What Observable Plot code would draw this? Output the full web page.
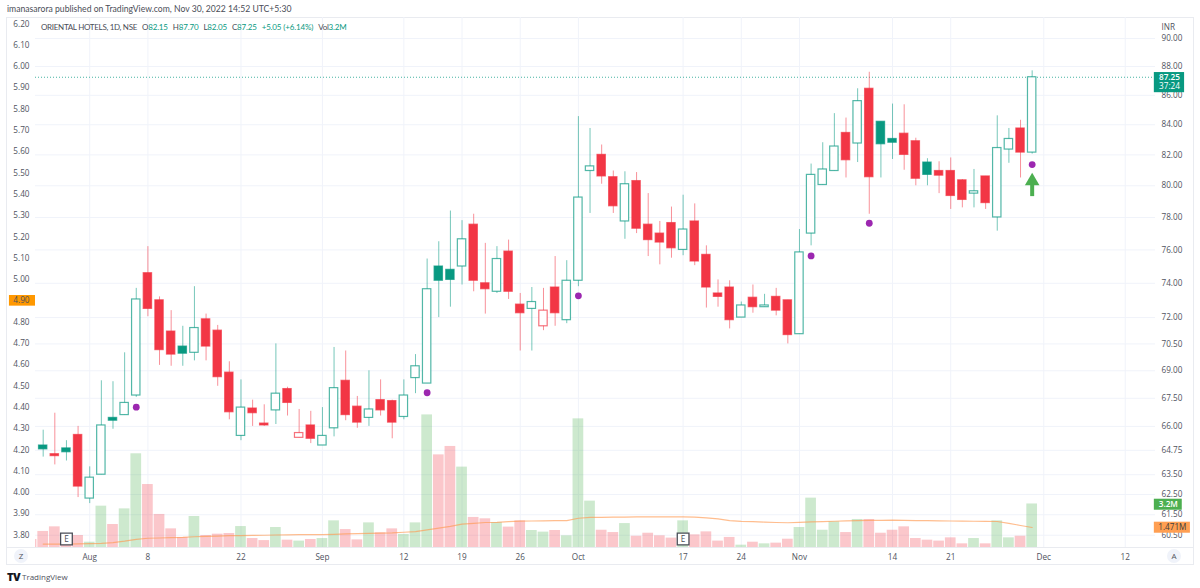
<!DOCTYPE html>
<html><head><meta charset="utf-8">
<script src="https://cdn.jsdelivr.net/npm/d3@7"></script>
<script src="https://cdn.jsdelivr.net/npm/@observablehq/plot@0.6"></script>
<style>
html,body{margin:0;padding:0;background:#fff}
#wrap{position:relative;width:1200px;height:588px;overflow:hidden;font-family:"Open Sans",sans-serif;color:#50535e}
#wrap svg{position:absolute;left:0;top:0;background:transparent}
#pub{position:absolute;left:7px;top:3px;font-family:Lato,sans-serif;font-size:8.65px;line-height:12px;white-space:nowrap;color:#4a4d57}
#frame{position:absolute;left:6px;top:17px;width:1188px;height:548px;border:1px solid #e9ebf0;box-sizing:border-box}
#sep{position:absolute;left:6px;top:547px;width:1188px;height:1px;background:#e9ebf0}
#legend{position:absolute;left:41px;top:21px;font-family:Lato,sans-serif;font-size:8px;line-height:12px;white-space:pre;color:#4a4d57;letter-spacing:-.3px}
#legend b{font-weight:400;color:#089981;letter-spacing:-.15px}
#legend span{margin-left:5px}
.round{position:absolute;top:549px;width:14px;height:14px;border-radius:50%;background:#f0f3fa;font-size:8px;line-height:14px;text-align:center;color:#50535e}
#logo{position:absolute;left:7px;top:571px;font-size:11px;line-height:12px;color:#131722;font-weight:800;letter-spacing:-.5px}
#brand{position:absolute;left:22px;top:571px;font-size:8px;line-height:12px;color:#50535e;white-space:nowrap}
</style></head><body>
<div id="wrap">
<div id="frame"></div><div id="sep"></div>
<div id="pub">imanasarora published on TradingView.com, Nov 30, 2022 14:52 UTC+5:30</div>
<div id="chart"></div>
<div id="legend">ORIENTAL HOTELS, 1D, NSE<span>O<b>82.15</b></span><span>H<b>87.70</b></span><span>L<b>82.05</b></span><span>C<b>87.25</b></span><span><b>+5.05 (+6.14%)</b></span><span>Vol<b>3.2M</b></span></div>
<div class="round" style="left:14px">Z</div>
<div class="round" style="left:1167px">A</div>
<div id="logo">TV</div><div id="brand">TradingView</div>
</div>
<script>
const opens=[65.00,64.55,64.85,65.55,62.30,63.50,66.45,66.60,67.65,74.60,73.00,71.20,70.35,70.00,71.90,71.25,68.90,65.50,66.95,66.15,66.85,68.00,65.40,66.05,65.00,65.90,68.45,67.05,66.45,67.40,67.35,66.50,68.60,68.30,75.00,74.80,75.00,77.55,74.00,73.50,75.90,72.75,72.50,71.50,73.75,71.85,74.15,80.95,82.00,80.55,77.75,80.30,77.55,77.00,77.65,76.00,77.75,75.70,73.40,73.75,72.00,73.15,72.60,73.20,73.00,71.05,77.00,80.05,80.95,83.45,82.75,86.45,84.20,83.05,83.40,82.90,81.50,80.95,80.95,80.35,79.50,80.60,78.00,82.35,83.75,82.15];
const highs=[65.80,66.70,65.25,66.00,63.90,68.45,68.40,70.00,73.70,76.20,73.20,72.40,71.50,73.80,72.20,71.55,69.50,68.50,67.40,67.15,70.50,68.10,66.90,66.80,67.00,70.30,70.10,67.60,69.00,68.50,67.40,68.50,69.90,75.45,76.50,78.40,77.80,78.20,76.40,76.20,76.60,73.40,73.75,73.70,75.60,75.35,84.55,83.75,82.65,80.95,80.90,80.85,79.50,77.75,78.65,79.40,78.85,76.25,74.20,74.15,72.90,73.90,73.35,73.70,73.00,77.25,81.40,82.80,84.75,84.45,86.45,87.60,84.20,85.40,85.35,83.10,81.75,81.55,81.80,80.40,81.05,80.60,84.60,83.75,84.30,87.70];
const lows=[64.40,64.00,64.20,62.35,62.05,63.50,65.85,66.60,67.55,72.05,69.30,69.25,69.25,69.55,69.55,68.15,66.35,65.25,66.00,66.00,66.10,66.55,65.40,65.10,65.00,65.45,66.30,65.90,66.00,66.55,65.35,66.35,67.75,68.30,72.00,72.60,73.90,73.50,72.20,73.40,73.05,70.10,70.10,71.25,71.50,71.65,73.80,78.25,80.10,78.25,76.65,77.00,75.60,75.10,75.50,75.65,75.05,72.55,72.60,71.35,72.00,72.25,72.60,72.10,70.50,71.05,76.25,80.05,80.95,80.50,81.50,78.20,80.50,81.70,81.00,80.00,80.00,79.50,78.50,78.60,78.60,78.50,77.15,81.45,80.50,82.05];
const closes=[64.80,64.45,64.65,62.90,63.35,66.05,66.30,67.25,73.05,72.50,70.15,69.90,69.95,71.40,70.35,68.65,66.75,67.00,66.70,66.05,67.75,67.25,65.65,65.35,65.50,68.05,66.60,66.20,66.90,66.85,66.20,67.65,69.25,73.65,74.15,74.20,76.65,74.15,73.65,75.45,73.50,72.25,72.90,72.40,72.25,74.15,79.25,81.25,80.60,78.70,80.10,77.30,76.60,76.45,76.10,77.25,75.30,73.75,73.20,71.85,72.70,72.60,72.70,72.40,71.00,75.85,80.70,81.05,82.55,81.65,85.60,80.55,82.70,82.80,82.00,80.45,80.70,80.65,79.35,79.10,79.65,78.90,82.45,83.05,82.15,87.25];
// volume in millions; the separate value belongs to the session just left of the visible candles
const clippedVolume=0.59;
const volumes=[1.18,1.52,0.62,0.88,0.39,3.04,1.69,2.84,6.89,4.63,2.43,1.37,0.74,2.28,0.88,0.98,1.03,1.54,0.66,0.51,1.47,0.54,0.47,0.59,0.66,1.96,1.32,0.56,1.81,1.08,1.37,0.96,1.81,9.75,6.81,7.43,5.91,2.21,2.11,1.84,1.50,1.96,1.25,1.13,1.25,0.86,9.46,3.41,1.27,1.10,1.76,0.83,1.05,0.86,0.69,1.96,0.93,1.15,0.47,0.74,0.17,0.39,0.27,0.32,0.61,1.47,3.63,1.27,1.89,1.10,2.06,2.06,1.05,1.27,1.52,0.66,0.54,0.47,0.71,0.27,0.66,0.27,1.96,0.71,0.83,3.20];
const volumeMA=[0.25,0.25,0.25,0.26,0.28,0.30,0.36,0.47,0.60,0.68,0.70,0.73,0.75,0.79,0.82,0.84,0.87,0.88,0.89,0.90,0.92,0.93,0.94,0.95,0.95,0.97,1.00,1.02,1.04,1.06,1.08,1.12,1.17,1.30,1.42,1.55,1.72,1.78,1.84,1.85,1.90,1.94,1.95,1.96,1.97,1.98,2.15,2.21,2.22,2.23,2.24,2.25,2.25,2.25,2.25,2.25,2.23,2.18,2.10,1.98,1.92,1.90,1.87,1.84,1.82,1.85,1.88,1.90,1.93,1.96,1.98,1.99,2.00,2.01,2.00,1.98,1.97,1.96,1.95,1.94,1.93,1.92,1.91,1.78,1.62,1.47];
const signalDays=[8,33,46,66,71,85];
const signalPrices=[67.02,67.80,73.26,75.64,77.64,81.37];
const earningsDays=[2,55];
const timeTicks=[4,9,17,24,31,36,41,46,55,60,65,73,78,86,93];
const timeLabels=["Aug","8","22","Sep","12","19","26","Oct","17","24","Nov","14","21","Dec","12"];
const rightTicks=[90,88,86,84,82,80,78,76,74,72,70.5,69,67.5,66,64.75,63.5,62.5,61.5,60.5];
const leftTicks=[6.2,6.1,6.0,5.9,5.8,5.7,5.6,5.5,5.4,5.3,5.2,5.1,5.0,4.9,4.8,4.7,4.6,4.5,4.4,4.3,4.2,4.1,4.0,3.9,3.8];

const teal="#089981", red="#f23645", ink="#50535e", gridCol="#f0f3fa";
const font='"Open Sans",sans-serif';
const xDomain=[-0.66,95.6];
// left overlay scale: linear on the same pixels as the log price scale
const leftToPrice=v=>88*Math.exp((v-6)*213/1251);

const candles=opens.map((o,i)=>({i,o,h:highs[i],l:lows[i],c:closes[i],
  col:(i===0||closes[i]>=closes[i-1])?teal:red, solid:closes[i]<opens[i]}));
const vols=[{i:-1,v:clippedVolume,up:false},...volumes.map((v,i)=>({i,v,up:closes[i]>=opens[i]}))];
const ma=volumeMA.map((v,i)=>({i,v}));
const signals=signalDays.map((i,k)=>({i,p:signalPrices[k]}));

const common={width:1200,height:588,marginTop:17,marginBottom:41,marginLeft:35,marginRight:45,
  style:{fontFamily:font,fontSize:"8.2px",background:"transparent",color:ink}};

const pricePlot=Plot.plot({...common,
  x:{domain:xDomain,axis:null},
  y:{type:"log",domain:[59.91,91.52],axis:null},
  marks:[
    Plot.gridX(timeTicks,{stroke:gridCol,strokeOpacity:1}),
    Plot.gridY(rightTicks,{stroke:gridCol,strokeOpacity:1}),
    Plot.ruleY([87.25],{stroke:teal,strokeOpacity:.75,strokeDasharray:"1 2"}),
    Plot.rect([{}],{x1:[-2.9],x2:[-0.66],y1:[leftToPrice(4.875)],y2:[leftToPrice(4.925)],fill:"#ff9800"}),
    Plot.axisX({ticks:timeTicks,tickSize:0,tickPadding:7,label:null,anchor:"bottom",fill:ink,
      tickFormat:d=>timeLabels[timeTicks.indexOf(d)]}),
    Plot.text(leftTicks,{y:leftToPrice,text:d=>d.toFixed(2),frameAnchor:"left",textAnchor:"end",dx:-6,fill:ink}),
    Plot.text(rightTicks,{y:d=>d,text:d=>d.toFixed(2),frameAnchor:"right",textAnchor:"start",dx:6,fill:ink}),
    Plot.text(["INR"],{frameAnchor:"top-right",textAnchor:"start",dx:6,dy:7,fill:ink}),
    Plot.ruleX(candles,{x:"i",y1:"l",y2:"h",stroke:"col",strokeOpacity:.55,strokeWidth:1}),
    Plot.rect(candles,{x1:d=>d.i-.36,x2:d=>d.i+.36,y1:d=>d.o,y2:d=>d.c,
      fill:d=>d.solid?d.col:"#fff",stroke:"col",strokeWidth:1.2,strokeOpacity:.7}),
    Plot.dot(signals,{x:"i",y:"p",r:3.4,fill:"#9c27b0"}),
    Plot.ruleX([85],{y1:[79.31],y2:[80.25],stroke:"#4caf50",strokeWidth:4}),
    Plot.dot([85],{x:d=>d,y:[80.30],symbol:"triangle",r:5.4,fill:"#4caf50"}),
    Plot.rect([{}],{x1:[95.5],x2:[98.1],y1:[86.18],y2:[87.58],fill:teal}),
    Plot.text(["87.25"],{x:[96.8],y:[87.25],fill:"#fff",fontWeight:600}),
    Plot.text(["37:24"],{x:[96.8],y:[86.6],fill:"#fff"})
  ]});

const volumePlot=Plot.plot({...common,
  x:{domain:xDomain,axis:null},
  y:{domain:[0,38.97],axis:null},
  marks:[
    Plot.rectY(vols,{x1:d=>d.i-.46,x2:d=>d.i+.46,y1:0,y2:"v",clip:true,
      fill:d=>d.up?"#4caf50":red,fillOpacity:.28}),
    Plot.line(ma,{x:"i",y:"v",stroke:"#ff9a52",strokeOpacity:.65,strokeWidth:1.2}),
    Plot.dot(earningsDays,{x:d=>d,y:[.63,.63],symbol:"square",r:6.6,fill:"#fff",stroke:"#4a4d57",strokeWidth:1.3}),
    Plot.text(earningsDays,{x:d=>d,y:[.63,.63],text:()=>"E",fill:"#4a4d57"}),
    Plot.rect([{}],{x1:[95.5],x2:[97.9],y1:[2.74],y2:[3.55],fill:"#4caf50"}),
    Plot.text(["3.2M"],{x:[96.7],y:[3.15],fill:"#fff",fontWeight:600}),
    Plot.rect([{}],{x1:[95.5],x2:[98.6],y1:[1.05],y2:[1.86],fill:"#ff9f52"}),
    Plot.text(["1.471M"],{x:[97.05],y:[1.47],fill:"#3d3d3d"})
  ]});

document.getElementById("chart").append(pricePlot,volumePlot);
</script>
</body></html>
